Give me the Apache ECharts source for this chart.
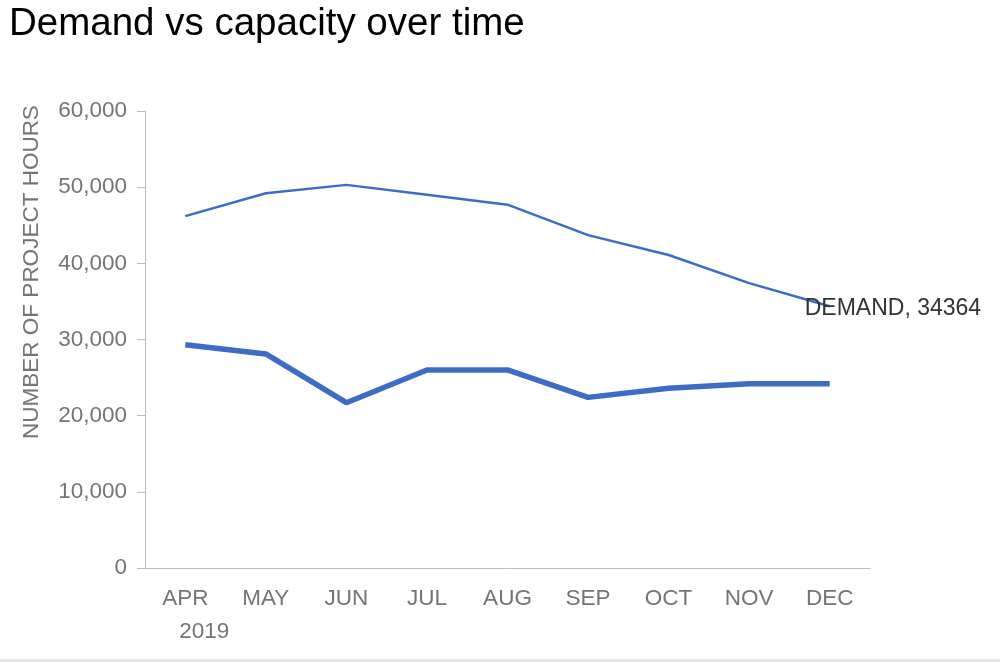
<!DOCTYPE html>
<html>
<head>
<meta charset="utf-8">
<script src="https://cdn.jsdelivr.net/npm/echarts@6/dist/echarts.min.js"></script>
<style>html,body{margin:0;padding:0;background:#fff;}#c{width:1000px;height:662px;}</style>
</head>
<body>
<div id="c"></div>
<script>
const months = ['APR','MAY','JUN','JUL','AUG','SEP','OCT','NOV','DEC'];
const demand = [46200, 49200, 50300, 49000, 47700, 43700, 41100, 37400, 34364];
const capacity = [29300, 28100, 21700, 26000, 26000, 22400, 23600, 24200, 24200];
const yTicks = [0, 10000, 20000, 30000, 40000, 50000, 60000];

const FONT = '"Liberation Sans", Arial, sans-serif';
const GRAY = '#757575';
const BLUE = '#3d6cc6';
const FS = 22.5;

const chart = echarts.init(document.getElementById('c'), null, {renderer: 'canvas'});
chart.setOption({
  animation: false,
  backgroundColor: '#fff',
  title: {
    text: 'Demand vs capacity over time',
    left: 4, top: 0,
    textStyle: {fontFamily: FONT, fontSize: 38.5, fontWeight: 'normal', color: '#000'}
  },
  grid: {left: 145, right: 130, top: 111, bottom: 94},
  xAxis: {
    type: 'category',
    data: months,
    boundaryGap: true,
    axisLine: {lineStyle: {color: '#bdbdbd', width: 1}},
    axisTick: {show: false},
    axisLabel: {
      interval: 0,
      margin: 14,
      fontFamily: FONT, fontSize: FS, color: GRAY,
      formatter: function (v, i) { return i === 0 ? '{a|' + v + '}\n{b|2019}' : '{a|' + v + '}'; },
      rich: {
        a: {fontFamily: FONT, fontSize: FS, color: GRAY, lineHeight: 33},
        b: {fontFamily: FONT, fontSize: FS, color: GRAY, lineHeight: 33, padding: [0, 0, 0, 38]}
      }
    }
  },
  yAxis: {
    type: 'value',
    min: yTicks[0], max: yTicks[yTicks.length - 1], interval: yTicks[1] - yTicks[0],
    axisLine: {show: true, lineStyle: {color: '#bdbdbd', width: 1}},
    axisTick: {show: true, length: 8, lineStyle: {color: '#bdbdbd'}},
    splitLine: {show: false},
    axisLabel: {
      margin: 18, fontFamily: FONT, fontSize: FS, color: GRAY,
      formatter: function (v) { return v.toLocaleString('en-US'); }
    }
  },
  graphic: [
    {
      type: 'text', x: 32, y: 272, rotation: Math.PI / 2,
      style: {text: 'NUMBER OF PROJECT HOURS', fontFamily: FONT, fontSize: FS, fill: GRAY,
              align: 'center', verticalAlign: 'middle'}
    },
    {
      type: 'rect', shape: {x: 0, y: 659, width: 1000, height: 3},
      style: {fill: '#e6e6e6'}
    }
  ],
  series: [
    {
      name: 'DEMAND', type: 'line', data: demand,
      symbol: 'none', smooth: false,
      lineStyle: {color: BLUE, width: 2.5},
      endLabel: {
        show: true, formatter: 'DEMAND, 34364', offset: [-33, 2],
        fontFamily: FONT, fontSize: 23, color: '#333'
      }
    },
    {
      name: 'CAPACITY', type: 'line', data: capacity,
      symbol: 'none', smooth: false,
      lineStyle: {color: BLUE, width: 5.5}
    }
  ]
});
</script>
</body>
</html>
